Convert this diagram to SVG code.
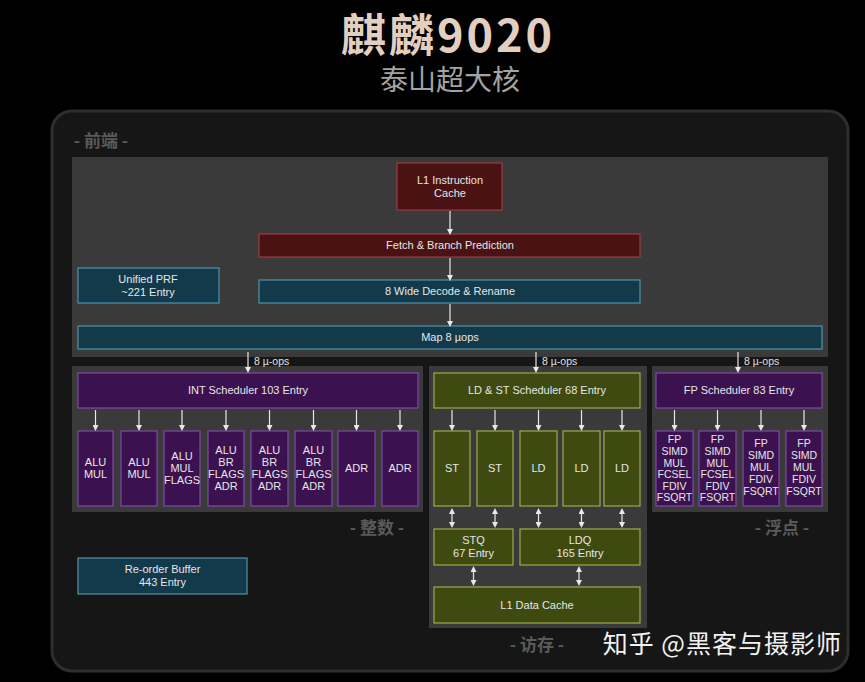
<svg xmlns="http://www.w3.org/2000/svg" width="865" height="682" viewBox="0 0 865 682">
<defs>
<marker id="ah" markerWidth="6" markerHeight="6" refX="3" refY="3" orient="auto" markerUnits="userSpaceOnUse"><path d="M0,0 L6,3 L0,6 z" fill="#e8e8e8"/></marker>
<marker id="ahs" markerWidth="6" markerHeight="6" refX="3" refY="3" orient="auto-start-reverse" markerUnits="userSpaceOnUse"><path d="M0,0 L6,3 L0,6 z" fill="#e8e8e8"/></marker>
<style>
.t{font-family:"Liberation Sans","DejaVu Sans",sans-serif;font-size:11px;fill:#e6e6e6;text-anchor:middle}
.u{font-family:"Liberation Sans","DejaVu Sans",sans-serif;font-size:11px;fill:#e6e6e6;text-anchor:middle}
.f{font-family:"Liberation Sans","DejaVu Sans",sans-serif;font-size:10.5px;fill:#e6e6e6;text-anchor:middle}
.red{fill:#4a1212;stroke:#a13a3a;stroke-width:1.2}
.teal{fill:#123a4b;stroke:#4f93a8;stroke-width:1.2}
.pur{fill:#3c1150;stroke:#7f4aa3;stroke-width:1.2}
.olv{fill:#3e4a10;stroke:#9eab4c;stroke-width:1.2}
.panel{fill:#3a3a3a}
.sec{font-family:"Noto Sans CJK SC","Liberation Sans",sans-serif;font-size:17px;font-weight:bold;fill:#5a5a5a;text-anchor:middle}
.ar{stroke:#e8e8e8;stroke-width:1.2;fill:none;marker-end:url(#ah)}
.dar{stroke:#e8e8e8;stroke-width:1.2;fill:none;marker-end:url(#ahs);marker-start:url(#ahs)}
.lbl{font-family:"Liberation Sans","DejaVu Sans",sans-serif;font-size:10.5px;fill:#e0e0e0}
</style>
</defs>
<rect x="0" y="0" width="865" height="682" fill="#000"/>
<text x="448" y="52" font-family="Noto Sans CJK SC,sans-serif" font-size="45" font-weight="bold" letter-spacing="3" fill="#e3cfc0" text-anchor="middle">麒麟9020</text>
<text x="450" y="90" font-family="Noto Sans CJK SC,sans-serif" font-size="28" fill="#a3a3a3" text-anchor="middle">泰山超大核</text>
<rect x="52" y="111" width="796" height="560" rx="20" fill="#161616" stroke="#2e2e2e" stroke-width="3"/>
<text x="101" y="147" class="sec">-  前端  -</text>
<rect x="72" y="157" width="756" height="200" class="panel"/>
<rect x="72" y="366" width="351" height="146" class="panel"/>
<rect x="429" y="366" width="218" height="262" class="panel"/>
<rect x="652" y="366" width="176" height="146" class="panel"/>
<text x="377" y="534" class="sec">-  整数  -</text>
<text x="782" y="534" class="sec">-  浮点  -</text>
<text x="537" y="651" class="sec">-  访存  -</text>

<g id="l1i"><rect x="397" y="163" width="105" height="47" class="red"/><text x="450" y="184" class="t">L1 Instruction</text><text x="450" y="197" class="t">Cache</text></g>
<g id="fetch"><rect x="259" y="234" width="381" height="23" class="red"/><text x="450" y="249" class="t">Fetch &amp; Branch Prediction</text></g>
<g id="prf"><rect x="78" y="268" width="141" height="35" class="teal"/><text x="148" y="283" class="t">Unified PRF</text><text x="148" y="296" class="t">~221 Entry</text></g>
<g id="decode"><rect x="259" y="280" width="381" height="23" class="teal"/><text x="450" y="295" class="t">8 Wide Decode &amp; Rename</text></g>
<g id="map"><rect x="78" y="326" width="744" height="23" class="teal"/><text x="450" y="341" class="t">Map 8 µops</text></g>

<g id="intsch"><rect x="78" y="373" width="340" height="35" class="pur"/><text x="248" y="394" class="t">INT Scheduler 103 Entry</text></g>
<g id="int1"><rect x="78" y="431" width="35" height="75" class="pur"/><text class="u" x="95.5" y="466">ALU</text><text class="u" x="95.5" y="478">MUL</text></g>
<g id="int2"><rect x="121" y="431" width="36" height="75" class="pur"/><text class="u" x="139" y="466">ALU</text><text class="u" x="139" y="478">MUL</text></g>
<g id="int3"><rect x="164" y="431" width="36" height="75" class="pur"/><text class="u" x="182" y="460">ALU</text><text class="u" x="182" y="472">MUL</text><text class="u" x="182" y="484">FLAGS</text></g>
<g id="int4"><rect x="208" y="431" width="36" height="75" class="pur"/><text class="u" x="226" y="454">ALU</text><text class="u" x="226" y="466">BR</text><text class="u" x="226" y="478">FLAGS</text><text class="u" x="226" y="490">ADR</text></g>
<g id="int5"><rect x="251" y="431" width="37" height="75" class="pur"/><text class="u" x="269.5" y="454">ALU</text><text class="u" x="269.5" y="466">BR</text><text class="u" x="269.5" y="478">FLAGS</text><text class="u" x="269.5" y="490">ADR</text></g>
<g id="int6"><rect x="295" y="431" width="37" height="75" class="pur"/><text class="u" x="313.5" y="454">ALU</text><text class="u" x="313.5" y="466">BR</text><text class="u" x="313.5" y="478">FLAGS</text><text class="u" x="313.5" y="490">ADR</text></g>
<g id="int7"><rect x="338" y="431" width="37" height="75" class="pur"/><text class="u" x="356.5" y="472">ADR</text></g>
<g id="int8"><rect x="382" y="431" width="36" height="75" class="pur"/><text class="u" x="400" y="472">ADR</text></g>

<g id="lssch"><rect x="434" y="373" width="206" height="35" class="olv"/><text x="537" y="394" class="t">LD &amp; ST Scheduler 68 Entry</text></g>
<g id="st1"><rect x="434" y="431" width="36" height="75" class="olv"/><text class="u" x="452" y="472">ST</text></g>
<g id="st2"><rect x="477" y="431" width="36" height="75" class="olv"/><text class="u" x="495" y="472">ST</text></g>
<g id="ld1"><rect x="520" y="431" width="37" height="75" class="olv"/><text class="u" x="538.5" y="472">LD</text></g>
<g id="ld2"><rect x="563" y="431" width="37" height="75" class="olv"/><text class="u" x="581.5" y="472">LD</text></g>
<g id="ld3"><rect x="604" y="431" width="36" height="75" class="olv"/><text class="u" x="622" y="472">LD</text></g>
<g id="stq"><rect x="434" y="529" width="79" height="36" class="olv"/><text x="473.5" y="544" class="t">STQ</text><text x="473.5" y="557" class="t">67 Entry</text></g>
<g id="ldq"><rect x="520" y="529" width="120" height="36" class="olv"/><text x="580" y="544" class="t">LDQ</text><text x="580" y="557" class="t">165 Entry</text></g>
<g id="l1d"><rect x="434" y="587" width="206" height="36" class="olv"/><text x="537" y="609" class="t">L1 Data Cache</text></g>

<g id="fpsch"><rect x="656" y="373" width="166" height="35" class="pur"/><text x="739" y="394" class="t">FP Scheduler 83 Entry</text></g>
<g id="fp1"><rect x="656" y="431" width="37" height="75" class="pur"/><text class="f" x="674.5" y="443">FP</text><text class="f" x="674.5" y="455">SIMD</text><text class="f" x="674.5" y="467">MUL</text><text class="f" x="674.5" y="478">FCSEL</text><text class="f" x="674.5" y="490">FDIV</text><text class="f" x="674.5" y="501">FSQRT</text></g>
<g id="fp2"><rect x="699" y="431" width="37" height="75" class="pur"/><text class="f" x="717.5" y="443">FP</text><text class="f" x="717.5" y="455">SIMD</text><text class="f" x="717.5" y="467">MUL</text><text class="f" x="717.5" y="478">FCSEL</text><text class="f" x="717.5" y="490">FDIV</text><text class="f" x="717.5" y="501">FSQRT</text></g>
<g id="fp3"><rect x="743" y="431" width="36" height="75" class="pur"/><text class="f" x="761" y="447">FP</text><text class="f" x="761" y="459">SIMD</text><text class="f" x="761" y="471">MUL</text><text class="f" x="761" y="483">FDIV</text><text class="f" x="761" y="495">FSQRT</text></g>
<g id="fp4"><rect x="786" y="431" width="36" height="75" class="pur"/><text class="f" x="804" y="447">FP</text><text class="f" x="804" y="459">SIMD</text><text class="f" x="804" y="471">MUL</text><text class="f" x="804" y="483">FDIV</text><text class="f" x="804" y="495">FSQRT</text></g>

<g id="rob"><rect x="78" y="558" width="169" height="36" class="teal"/><text x="162.5" y="573" class="t">Re-order Buffer</text><text x="162.5" y="586" class="t">443 Entry</text></g>

<g id="connectors">
<line x1="450" y1="211" x2="450" y2="232" class="ar"/>
<line x1="450" y1="258" x2="450" y2="278" class="ar"/>
<line x1="450" y1="304" x2="450" y2="324" class="ar"/>
<line x1="248" y1="352" x2="248" y2="370" class="ar"/>
<line x1="536" y1="352" x2="536" y2="370" class="ar"/>
<line x1="738" y1="352" x2="738" y2="370" class="ar"/>
<line x1="95.5" y1="410" x2="95.5" y2="428" class="ar"/>
<line x1="139" y1="410" x2="139" y2="428" class="ar"/>
<line x1="182" y1="410" x2="182" y2="428" class="ar"/>
<line x1="226" y1="410" x2="226" y2="428" class="ar"/>
<line x1="269.5" y1="410" x2="269.5" y2="428" class="ar"/>
<line x1="313.5" y1="410" x2="313.5" y2="428" class="ar"/>
<line x1="356.5" y1="410" x2="356.5" y2="428" class="ar"/>
<line x1="400" y1="410" x2="400" y2="428" class="ar"/>
<line x1="452" y1="410" x2="452" y2="428" class="ar"/>
<line x1="495" y1="410" x2="495" y2="428" class="ar"/>
<line x1="538.5" y1="410" x2="538.5" y2="428" class="ar"/>
<line x1="581.5" y1="410" x2="581.5" y2="428" class="ar"/>
<line x1="622" y1="410" x2="622" y2="428" class="ar"/>
<line x1="674.5" y1="410" x2="674.5" y2="428" class="ar"/>
<line x1="717.5" y1="410" x2="717.5" y2="428" class="ar"/>
<line x1="761" y1="410" x2="761" y2="428" class="ar"/>
<line x1="804" y1="410" x2="804" y2="428" class="ar"/>
<line x1="452" y1="511" x2="452" y2="525" class="dar"/>
<line x1="495" y1="511" x2="495" y2="525" class="dar"/>
<line x1="538.5" y1="511" x2="538.5" y2="525" class="dar"/>
<line x1="581.5" y1="511" x2="581.5" y2="525" class="dar"/>
<line x1="622" y1="511" x2="622" y2="525" class="dar"/>
<line x1="473.5" y1="569" x2="473.5" y2="583" class="dar"/>
<line x1="579" y1="569" x2="579" y2="583" class="dar"/>
</g>
<text x="254" y="365" class="lbl">8 µ-ops</text>
<text x="542" y="365" class="lbl">8 µ-ops</text>
<text x="744" y="365" class="lbl">8 µ-ops</text>
<text x="842" y="653" font-family="Noto Sans CJK SC,sans-serif" font-size="25" letter-spacing="1" fill="#f2f2f2" text-anchor="end">知乎  @黑客与摄影师</text>
</svg>
